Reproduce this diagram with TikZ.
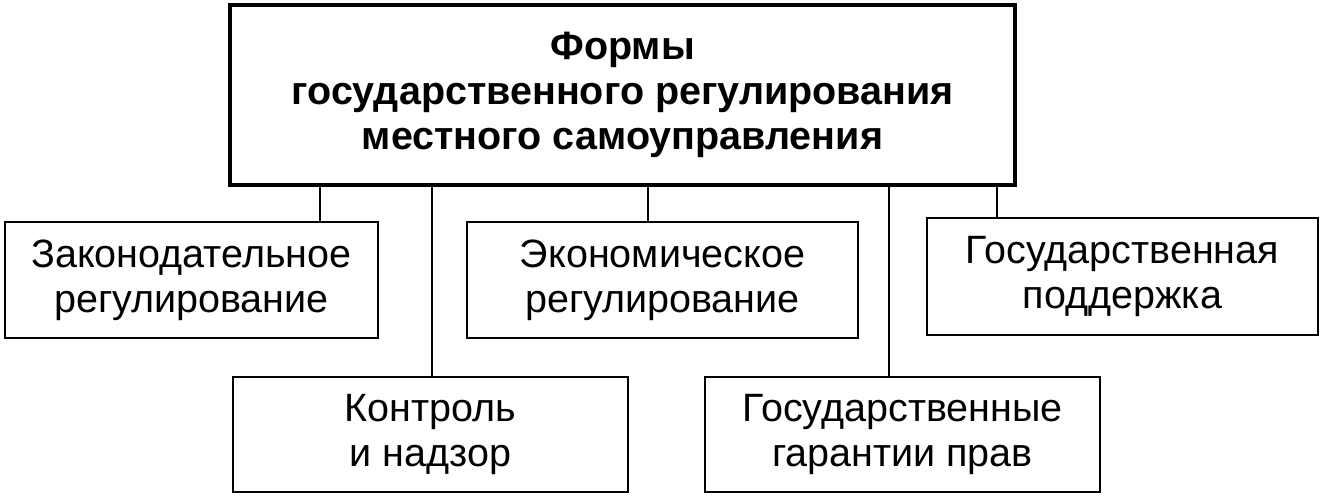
\documentclass[tikz,border=0pt]{standalone}
\usepackage{fontspec}
\setmainfont{Liberation Sans}
\usetikzlibrary{positioning}

\begin{document}
\begin{tikzpicture}[x=1pt,y=-1pt,thick,
box/.style={draw,line width=1.6pt,align=center,inner sep=0pt,
  font=\fontsize{39.5}{45}\selectfont}]
\useasboundingbox (0,0) rectangle (1322,499);

\node[box,line width=3.5pt,minimum width=785,minimum height=180,
  font=\bfseries\fontsize{39.5}{45}\selectfont] (top) at (622.5,95)
  {Формы\\государственного регулирования\\местного самоуправления};

\node[box,minimum width=373,minimum height=116] (zak) at (191.5,280) {Законодательное\\регулирование};
\node[box,minimum width=391,minimum height=116] (eco) at (662.5,280) {Экономическое\\регулирование};
\node[box,minimum width=391,minimum height=117] (pod) at (1122.5,276.5) {Государственная\\поддержка};
\node[box,minimum width=395,minimum height=115] (kon) at (430.5,434.5) {Контроль\\и надзор};
\node[box,minimum width=395,minimum height=115] (gar) at (902.5,434.5) {Государственные\\гарантии прав};

\path[draw,line width=1.6pt]
(top.south -| 320,0) -- (zak.north -| 320,0)
(top.south -| 432,0) -- (kon.north -| 432,0)
(top.south -| 648,0) -- (eco.north -| 648,0)
(top.south -| 889,0) -- (gar.north -| 889,0)
(top.south -| 997,0) -- (pod.north -| 997,0);
\end{tikzpicture}
\end{document}
